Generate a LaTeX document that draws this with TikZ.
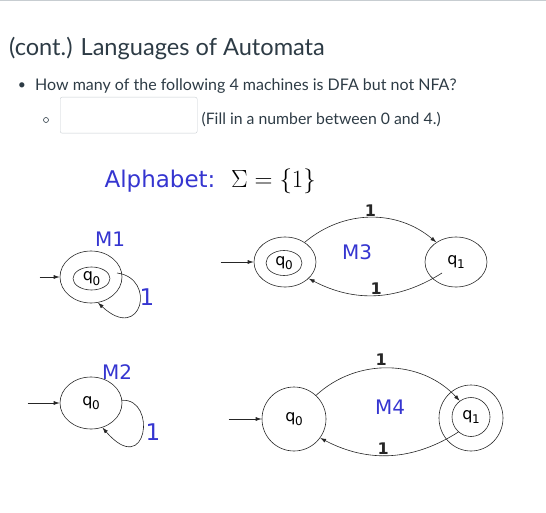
\documentclass[tikz,border=0pt]{standalone}
\usepackage{fontspec}
\setmainfont{Lato}
\newfontfamily\comicfont{DejaVu Sans}
\usetikzlibrary{arrows.meta,positioning,shapes.geometric,calc}
\definecolor{inkgray}{HTML}{2D3B45}
\definecolor{rulegray}{HTML}{C7CDD1}
\definecolor{sketchblue}{HTML}{3535D0}
\newcommand{\qsub}[1]{q\kern-0.5pt\raisebox{-0.5ex}{\fontsize{12}{12}\selectfont #1}}
\tikzset{
  statebox/.style 2 args={
    ellipse, draw=black!85, line width=0.6pt, inner sep=0pt,
    minimum width=#1, minimum height=#2,
    font=\comicfont\fontsize{16}{16}\selectfont
  },
  initarrow/.style={-{Latex[length=6pt,width=4pt]}, line width=0.6pt, black!85},
  transarrow/.style={-{Latex[length=6pt,width=4pt]}, line width=0.6pt, black!85},
  machinelabel/.style={text=sketchblue, font=\comicfont\fontsize{20}{20}\selectfont},
  symlabel/.style={font=\comicfont\bfseries\fontsize{16}{16}\selectfont, inner sep=1pt},
  looplabel/.style={text=sketchblue, font=\comicfont\fontsize{23}{23}\selectfont},
  uitext/.style={text=inkgray, anchor=base west, inner sep=0pt, font=\fontsize{#1}{#1}\selectfont},
}

\begin{document}
\begin{tikzpicture}[x=1pt, y=-1pt]
    \useasboundingbox (0,0) rectangle (546,513);
    \draw[rulegray, line width=1pt] (0,1) -- (546,1);

    \node[uitext=23.6] (title) at (9,56) {(cont.) Languages of Automata};
    \node[text=inkgray, font=\fontsize{14}{14}\selectfont] (bullet) at (22,86) {•};
    \node[uitext=16] (question) at (35,91) {How many of the following 4 machines is DFA but not NFA?};
    \node[circle, draw=inkgray, line width=0.6pt, minimum size=5pt, inner sep=0pt] (hollow) at (46,120) {};
    \node[draw=rulegray, rounded corners=2pt, minimum width=137pt, minimum height=36pt,
          anchor=north west] (answer) at (60,97) {};
    \node[uitext=15.8, anchor=west, right=4pt of answer, yshift=-4pt] (hint)
        {(Fill in a number between 0 and 4.)};

    \node[machinelabel, anchor=west, font=\comicfont\fontsize{23}{23}\selectfont] (alphabet)
        at (101,181) {Alphabet:};
    \node[anchor=west, font=\fontsize{23}{23}\selectfont, inner sep=0pt] (sigma)
        at (231,181) {$\Sigma=\{1\}$};

    % M1
    \node[statebox={62pt}{52pt}] (m1out) at (91,277) {};
    \node[statebox={37pt}{23pt}] (m1in) at (91.5,278.5) {\qsub0};
    \node[machinelabel] (m1name) at (110,239) {M1};
    \coordinate[left=20pt of m1out] (m1start);
    \draw[initarrow] (m1start) -- (m1out);
    \draw[transarrow] ($(m1out.center)+(26,-4)$) .. controls +(40,5) and +(44,41) .. (m1out.-75);
    \node[looplabel] (m1sym) at (147,297) {1};

    % M2
    \node[statebox={62pt}{52pt}] (m2q) at (91,403) {\qsub0};
    \node[machinelabel] (m2name) at (117,372) {M2};
    \coordinate[left=32pt of m2q] (m2start);
    \draw[initarrow] (m2start) -- (m2q);
    \draw[transarrow] (m2q.5) .. controls +(35,-2) and +(45,52) .. (m2q.-65);
    \node[looplabel] (m2sym) at (153,432) {1};

    % M3
    \node[statebox={62pt}{50pt}] (m3a) at (285,262) {};
    \node[statebox={36pt}{25pt}] (m3ain) at (284,263) {\qsub0};
    \node[statebox={62pt}{50pt}] (m3b) at (456,262) {\qsub1};
    \node[machinelabel] (m3name) at (357,252) {M3};
    \coordinate[left=33pt of m3a] (m3start);
    \draw[initarrow] (m3start) -- (m3a);
    \draw[transarrow] (m3a.45) to[bend left=40] node[symlabel, above] (m3top) {1} (m3b.135);
    \draw[transarrow] ($(m3b.center)+(-14,11)$) to[bend left=30] node[symlabel, above] (m3bot) {1} (m3a.-35);

    % M4
    \node[statebox={64pt}{64pt}] (m4a) at (294,419) {\qsub0};
    \node[statebox={64pt}{66pt}] (m4b) at (471,418) {};
    \node[statebox={38pt}{39pt}] (m4bin) at (471,417) {\qsub1};
    \node[machinelabel] (m4name) at (390,407) {M4};
    \coordinate[left=33pt of m4a] (m4start);
    \draw[initarrow] (m4start) -- (m4a);
    \draw[transarrow] (m4a.47) to[bend left=45] node[symlabel, above=2pt, pos=0.45] (m4top) {1} (m4bin.125);
    \draw[transarrow] (m4bin.230) to[bend left=30] node[symlabel, above, pos=0.55] (m4bot) {1} (m4a.-36);
\end{tikzpicture}
\end{document}
